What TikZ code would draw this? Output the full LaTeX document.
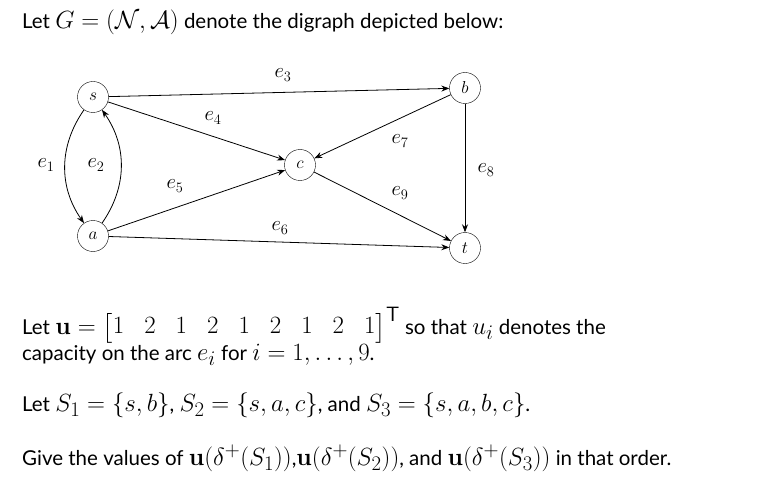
\documentclass[tikz,border=0pt]{standalone}
\usepackage{amsmath}
\usepackage[no-math]{fontspec}
\setmainfont{Lato}
\usetikzlibrary{arrows.meta}
\newcommand{\Mth}[1]{{\fontsize{28}{28}\selectfont$#1$}}
\begin{document}
\begin{tikzpicture}[x=1pt,y=-1pt,
  vert/.style={circle,draw,minimum size=31pt,inner sep=0pt,font=\fontsize{19}{19}\selectfont},
  arc/.style={draw,-{Stealth[length=8pt,width=6pt]},line width=0.8pt},
  lbl/.style={font=\fontsize{22}{22}\selectfont},
  txt/.style={anchor=west,inner sep=0pt,font=\fontsize{20.5}{24}\selectfont}]
\useasboundingbox (0,0) rectangle (757,489);
\node[txt] (l1) at (22,22) {Let \Mth{G=(\mathcal{N},\mathcal{A})} denote the digraph depicted below:};
\node[vert] (s) at (93,97) {$s$};
\node[vert] (a) at (93,236) {$a$};
\node[vert] (c) at (300,165) {$c$};
\node[vert] (b) at (465,88) {$b$};
\node[vert] (t) at (465,248) {$t$};
\draw[arc] (s) to[bend right=35] (a);
\draw[arc] (a) to[bend right=35] (s);
\draw[arc] (s) -- (b);
\draw[arc] (s) -- (c);
\draw[arc] (a) -- (c);
\draw[arc] (a) -- (t);
\draw[arc] (b) -- (c);
\draw[arc] (b) -- (t);
\draw[arc] (c) -- (t);
\node[lbl] (l_e1) at (46,165) {$e_1$};
\node[lbl] (l_e2) at (96,165) {$e_2$};
\node[lbl] (l_e3) at (283,75) {$e_3$};
\node[lbl] (l_e4) at (213,118) {$e_4$};
\node[lbl] (l_e5) at (175,186) {$e_5$};
\node[lbl] (l_e6) at (280,228) {$e_6$};
\node[lbl] (l_e7) at (400,141) {$e_7$};
\node[lbl] (l_e8) at (486,170) {$e_8$};
\node[lbl] (l_e9) at (400,193) {$e_9$};
\node[txt] (l2) at (22,325) {Let \Mth{\mathbf{u}=\setlength{\arraycolsep}{10pt}\begin{bmatrix}1&2&1&2&1&2&1&2&1\end{bmatrix}^{\mathsf{T}}} so that \Mth{u_i} denotes the};
\node[txt] (l3) at (22,355) {capacity on the arc \Mth{e_i} for \Mth{i=1,\dots,9}.};
\node[txt] (l4) at (22,405) {Let \Mth{S_1=\{s,b\}}, \Mth{S_2=\{s,a,c\}}, and \Mth{S_3=\{s,a,b,c\}}.};
\node[txt] (l5) at (22,458) {Give the values of \Mth{\mathbf{u}(\delta^+(S_1))},\Mth{\mathbf{u}(\delta^+(S_2))}, and \Mth{\mathbf{u}(\delta^+(S_3))} in that order.};
\end{tikzpicture}
\end{document}
